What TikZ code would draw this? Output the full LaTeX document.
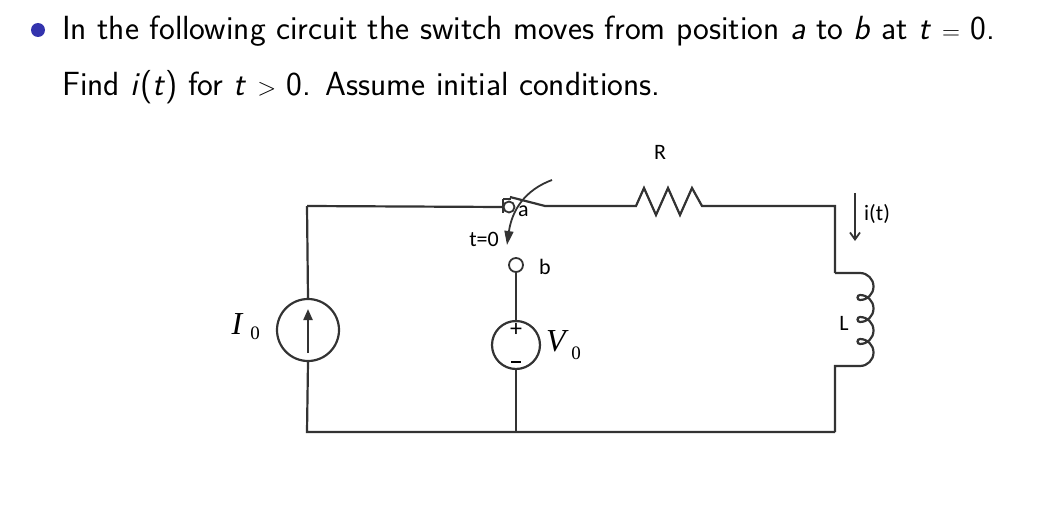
\documentclass[tikz,border=0pt]{standalone}
\usepackage{fontspec}
\newfontfamily\calfnt{Carlito}
\newfontfamily\tmsfnt{Liberation Serif}
\usetikzlibrary{arrows.meta}
\newcommand{\mi}[1]{\textit{#1}}
\begin{document}
\begin{tikzpicture}[x=1pt,y=-1pt,
  wire/.style={line width=2.2pt,draw=black!80},
  lab/.style={font=\calfnt\fontsize{22}{22}\selectfont,inner sep=0pt},
  title/.style={font=\sffamily\fontsize{33.5}{33.5}\selectfont,anchor=base west,inner sep=0pt}]
\useasboundingbox (0,0) rectangle (1045,532);
\fill[blue!60!black!80] (38,30) circle (7);
\node[title] (t1) at (62,40) {In the following circuit the switch moves from position \mi{a} to \mi{b} at \mi{t} $=$ 0.};
\node[title] (t2) at (62,96) {Find \mi{i}(\mi{t}) for \mi{t} $>$ 0. Assume initial conditions.};
\coordinate (tl) at (307,206); \coordinate (bl) at (307,432);
\coordinate (tr) at (835,206); \coordinate (br) at (835,432);
\coordinate (bm) at (516,432);
\node[circle,draw=black!80,line width=2.2pt,minimum size=62pt,inner sep=0pt] (cs) at (308,330) {};
\draw[wire] (tl) -- (cs.north); \draw[wire] (cs.south) -- (bl) -- (bm) -- (br);
\draw[line width=2.2pt,draw=black!80,-{Triangle[length=11pt,width=9pt]}] (308,353) -- (308,309);
\node[font=\tmsfnt\itshape\fontsize{32}{32}\selectfont] (I0) at (237,324) {I};
\node[font=\tmsfnt\fontsize{19}{19}\selectfont] (I0s) at (255,333) {0};
\node[circle,draw=black!80,line width=1.8pt,minimum size=11pt,inner sep=0pt] (a) at (509,207) {};
\draw[wire] (tl) -- (a.west);
\draw[line width=1.8pt,draw=black!80] (503,199) -- (511,199) (503,199) -- (503,213);
\draw[wire] (510,197) -- (545,206) -- (630,206);
\draw[line width=1.8pt,draw=black!80,-{Triangle[length=14pt,width=9pt]}] (552,180) .. controls (525,190) and (512,210) .. (507,245);
\node[lab,anchor=west] (la) at (518,211) {a};
\node[lab] (t0) at (484,239) {t=0};
\node[circle,draw=black!80,line width=1.8pt,minimum size=14pt,inner sep=0pt] (b) at (516,265) {};
\node[lab] (lb) at (545,267) {b};
\node[circle,draw=black!80,line width=2.2pt,minimum size=48pt,inner sep=0pt] (vs) at (516,345) {};
\draw[wire] (b.south) -- (vs.north); \draw[wire] (vs.south) -- (bm);
\node[font=\calfnt\fontsize{24}{24}\selectfont,inner sep=0pt] (plus) at (516,330) {+};
\draw[line width=2pt] (511,362) -- (521,362);
\node[font=\tmsfnt\itshape\fontsize{32}{32}\selectfont] (V0) at (556,341) {V};
\node[font=\tmsfnt\fontsize{19}{19}\selectfont] (V0s) at (576,353) {0};
\draw[wire] (630,206) -- (636,206) -- (644,188) -- (656,215) -- (668,188) -- (680,215) -- (692,188) -- (702,206) -- (tr) -- (835,273);
\node[lab] (R) at (660,152) {R};
\draw[line width=1.8pt,draw=black!80,-{Straight Barb[length=7pt,width=10pt]}] (855,193) -- (855,241);
\node[lab,anchor=west] (it) at (864,214) {i(t)};
\draw[wire] (835,273) -- (860,273)
  arc[start angle=-90,end angle=90,radius=13.5] arc[start angle=90,end angle=270,radius=2.5]
  arc[start angle=-90,end angle=90,radius=13.5] arc[start angle=90,end angle=270,radius=2.5]
  arc[start angle=-90,end angle=90,radius=13.5] arc[start angle=90,end angle=270,radius=2.5]
  arc[start angle=-90,end angle=90,radius=13.5]
  -- (835,366) -- (br);
\node[lab] (L) at (844,323) {L};
\end{tikzpicture}
\end{document}
